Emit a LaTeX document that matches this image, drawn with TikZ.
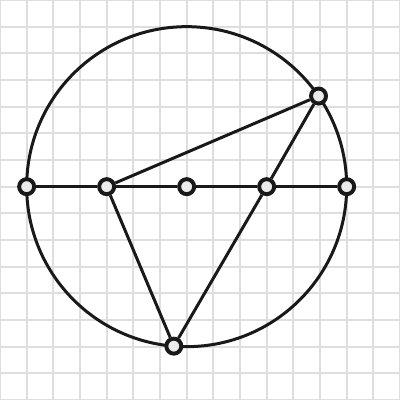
\documentclass[tikz,border=0pt]{standalone}
\colorlet{gcol}{black!13}
\colorlet{ecol}{black!90}
\tikzstyle{vertex}=[circle, draw=ecol, fill=black!8, line width=4.2pt, inner sep=0pt, minimum size=16pt]
\tikzstyle{edge}=[line width=3.2pt,ecol]
\tikzstyle{gridline}=[line width=2pt,gcol]

\begin{document}
\begin{tikzpicture}
		\useasboundingbox (-7,-8) rectangle (8,7);
		\draw[gridline] (-7,-8) grid (8,7);
		\draw[edge] (0,0) circle (6);
		\node[vertex] (0) at (-6, 0) {};
		\node[vertex] (1) at (-3, 0) {};
		\node[vertex] (2) at (0, 0) {};
		\node[vertex] (3) at (3, 0) {};
		\node[vertex] (4) at (6, 0) {};
		\node[vertex] (5) at (34.5:6) {};
		\node[vertex] (6) at (-94.6:6) {};
		\draw[edge] (0)edge(1) (1)edge(2) (2)edge(3) (3)edge(4) (1)edge(5) (3)edge(5) (1)edge(6) (3)edge(6)  ;
	\end{tikzpicture}
\end{document}
